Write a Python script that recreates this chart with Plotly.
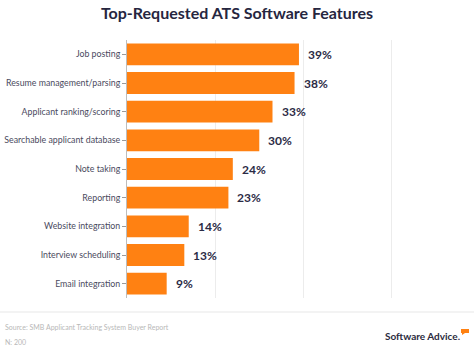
import plotly.graph_objects as go

features = ["Job posting", "Resume management/parsing", "Applicant ranking/scoring",
            "Searchable applicant database", "Note taking", "Reporting",
            "Website integration", "Interview scheduling", "Email integration"]
values = [39, 38, 33, 30, 24, 23, 14, 13, 9]
value_labels = ["39%", "38%", "33%", "30%", "24%", "23%", "14%", "13%", "9%"]

W, H = 474, 358
fig = go.Figure()
fig.add_trace(go.Bar(
    x=values, y=features, orientation="h",
    marker=dict(color="#FF8112", line=dict(width=0)),
    width=0.76, hoverinfo="skip",
))
for f, v, t in zip(features, values, value_labels):
    fig.add_annotation(x=v, y=f, text="<b>%s</b>" % t, showarrow=False,
                       xanchor="left", xshift=7,
                       font=dict(family="Lato, sans-serif", size=12, color="#2B2B45"))

fig.update_layout(
    width=W, height=H,
    margin=dict(l=127, r=0, t=40, b=60),
    paper_bgcolor="white", plot_bgcolor="white",
    showlegend=False,
    title=dict(text="<b>Top-Requested ATS Software Features</b>", x=0.5, xanchor="center",
               y=1 - 13 / H, yanchor="middle",
               font=dict(family="Lato, sans-serif", size=16, color="#26263F")),
    xaxis=dict(range=[0, 78.7], dtick=20, showgrid=True, gridcolor="#ECECEC", gridwidth=1,
               showticklabels=False, zeroline=False, showline=False, fixedrange=True,
               automargin=False),
    yaxis=dict(categoryorder="array", categoryarray=features[::-1],
               showline=True, linecolor="#BDBDBD", linewidth=1,
               ticks="outside", ticklen=4, tickcolor="#9A9A9A",
               tickfont=dict(family="Lato, sans-serif", size=8.8, color="#4A4A5E"),
               showgrid=False, automargin=False),
)

# separator line
fig.add_shape(type="line", xref="paper", yref="paper", x0=-127 / (W - 127), x1=1,
              y0=-(312 - 298) / 258, y1=-(312 - 298) / 258,
              line=dict(color="#EFEFEF", width=1.5))

fig.add_annotation(xref="paper", yref="paper", x=-124 / (W - 127), y=-(327 - 298) / 258,
                   xanchor="left", yanchor="middle", showarrow=False,
                   text="Source: SMB Applicant Tracking System Buyer Report",
                   font=dict(family="Lato, sans-serif", size=7, color="#B8B8B8"))
fig.add_annotation(xref="paper", yref="paper", x=-124 / (W - 127), y=-(342 - 298) / 258,
                   xanchor="left", yanchor="middle", showarrow=False,
                   text="N: 200",
                   font=dict(family="Lato, sans-serif", size=7, color="#B8B8B8"))
fig.add_annotation(xref="paper", yref="paper", x=(462 - 127) / (W - 127), y=-(336 - 298) / 258,
                   xanchor="right", yanchor="middle", showarrow=False,
                   text="<b>Software Advice.</b>",
                   font=dict(family="Lato, sans-serif", size=10, color="#2B2B40"))
# orange speech bubble of logo
fig.add_shape(type="rect", xref="paper", yref="paper",
              x0=(461 - 127) / (W - 127), x1=(469 - 127) / (W - 127),
              y0=-(333 - 298) / 258, y1=-(329 - 298) / 258,
              fillcolor="#FF8112", line=dict(width=0))
fig.add_shape(type="path", xref="paper", yref="paper",
              path="M %f,%f L %f,%f L %f,%f Z" % (
                  (462 - 127) / (W - 127), -(333 - 298) / 258,
                  (465 - 127) / (W - 127), -(333 - 298) / 258,
                  (462 - 127) / (W - 127), -(335 - 298) / 258),
              fillcolor="#FF8112", line=dict(width=0))

fig.write_html("out.html")
